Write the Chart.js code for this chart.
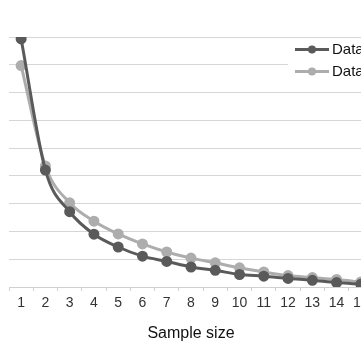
<!DOCTYPE html>
<html>
<head>
<meta charset="utf-8">
<script src="https://cdn.jsdelivr.net/npm/chart.js@4"></script>
<style>
  html, body { margin: 0; padding: 0; background: #fff; overflow: hidden; }
  #wrap { width: 380px; height: 361px; position: relative; }
</style>
</head>
<body>
<div id="wrap"><canvas id="sampleChart"></canvas></div>
<script>
// values (one gridline = 1 unit)
const sampleSizes = ['1','2','3','4','5','6','7','8','9','10','11','12','13','14','15'];
const data1 = [8.93, 4.21, 2.71, 1.90, 1.44, 1.11, 0.92, 0.72, 0.60, 0.45, 0.39, 0.31, 0.24, 0.16, 0.10];
const data2 = [7.97, 4.36, 3.03, 2.37, 1.91, 1.55, 1.26, 1.04, 0.87, 0.69, 0.54, 0.41, 0.34, 0.27, 0.18];
const seriesNames = ['Data 1', 'Data 2'];

// legend drawn inside the plot, on a white box, like the original
const boxLegend = {
    id: 'boxLegend',
    afterDraw(chart) {
        const ctx = chart.ctx;
        ctx.save();
        ctx.fillStyle = '#fff';
        ctx.fillRect(288, 40, 100, 42);
        chart.data.datasets.forEach((ds, i) => {
            const y = 49.5 + i * 22;
            ctx.strokeStyle = ds.borderColor;
            ctx.lineWidth = 3;
            ctx.beginPath();
            ctx.moveTo(295, y);
            ctx.lineTo(329, y);
            ctx.stroke();
            ctx.fillStyle = ds.borderColor;
            ctx.beginPath();
            ctx.arc(312, y, 4, 0, Math.PI * 2);
            ctx.fill();
            ctx.fillStyle = '#111';
            ctx.font = '15px "Liberation Sans", Arial, sans-serif';
            ctx.textBaseline = 'middle';
            ctx.fillText(ds.label, 332, y + 0.5);
        });
        ctx.restore();
    }
};

const ctx = document.getElementById('sampleChart').getContext('2d');
const chart = new Chart(ctx, {
    type: 'line',
    data: {
        labels: sampleSizes,
        datasets: [{
            label: seriesNames[0],
            data: data1,
            borderColor: '#5a5a5a',
            backgroundColor: '#5a5a5a',
            borderWidth: 3,
            pointRadius: 4,
            tension: 0.25,
            cubicInterpolationMode: 'monotone'
        }, {
            label: seriesNames[1],
            data: data2,
            borderColor: '#adadad',
            backgroundColor: '#adadad',
            borderWidth: 3,
            pointRadius: 4,
            tension: 0.25,
            cubicInterpolationMode: 'monotone'
        }]
    },
    options: {
        responsive: true,
        maintainAspectRatio: false,
        animation: false,
        layout: { padding: { left: 9, right: 6, top: 37, bottom: 18 } },
        plugins: {
            legend: { display: false },
            tooltip: { enabled: false }
        },
        scales: {
            x: {
                offset: true,
                grid: { offset: true, drawOnChartArea: false, drawTicks: true, tickLength: 4, color: '#d0d0d0' },
                border: { color: '#d0d0d0' },
                ticks: { color: '#333', font: { family: '"Liberation Sans", Arial', size: 14 }, padding: 4, maxRotation: 0, autoSkip: false },
                title: { display: true, text: 'Sample size', color: '#111', font: { family: '"Liberation Sans", Arial', size: 16 }, padding: { top: 8, bottom: 0 } }
            },
            y: {
                min: 0,
                max: 9,
                ticks: { display: false, stepSize: 1 },
                grid: { color: '#d6d6d6', drawTicks: false },
                border: { display: false }
            }
        }
    },
    plugins: [boxLegend]
});
</script>
</body>
</html>
